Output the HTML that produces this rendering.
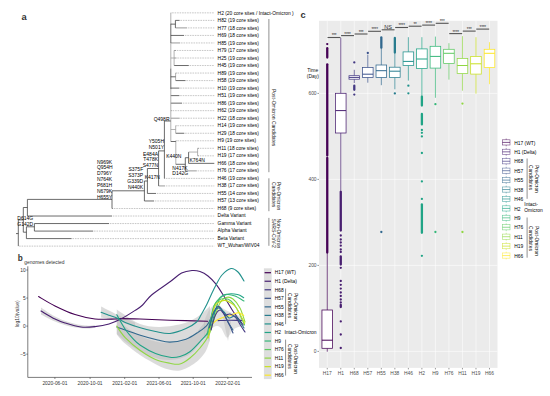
<!DOCTYPE html>
<html><head><meta charset="utf-8"><style>
html,body{margin:0;padding:0;background:#fff;width:550px;height:396px;overflow:hidden;}
svg{display:block;}
text{font-family:"Liberation Sans",sans-serif;}
</style></head><body>
<svg width="550" height="396" viewBox="0 0 550 396">
<g fill="none" stroke-width="0.55">
<line x1="170.8" y1="12.85" x2="171.3" y2="12.85" stroke="#9a9a9a" stroke-width="1.0"/>
<line x1="172.1" y1="12.85" x2="214.3" y2="12.85" stroke="#a8a8a8" stroke-width="0.65" stroke-dasharray="1.6 0.9"/>
<line x1="175.4" y1="20.38" x2="179.6" y2="20.38" stroke="#3a3a3a" stroke-width="0.75"/>
<line x1="180.4" y1="20.38" x2="214.3" y2="20.38" stroke="#a8a8a8" stroke-width="0.65" stroke-dasharray="1.6 0.9"/>
<line x1="175.4" y1="27.9" x2="187.1" y2="27.9" stroke="#9a9a9a" stroke-width="1.0"/>
<line x1="187.9" y1="27.9" x2="214.3" y2="27.9" stroke="#a8a8a8" stroke-width="0.65" stroke-dasharray="1.6 0.9"/>
<line x1="170.8" y1="35.43" x2="184" y2="35.43" stroke="#3a3a3a" stroke-width="0.75"/>
<line x1="184.8" y1="35.43" x2="214.3" y2="35.43" stroke="#a8a8a8" stroke-width="0.65" stroke-dasharray="1.6 0.9"/>
<line x1="170.8" y1="42.95" x2="180.2" y2="42.95" stroke="#9a9a9a" stroke-width="1.0"/>
<line x1="181" y1="42.95" x2="214.3" y2="42.95" stroke="#a8a8a8" stroke-width="0.65" stroke-dasharray="1.6 0.9"/>
<line x1="174.1" y1="50.48" x2="176" y2="50.48" stroke="#9a9a9a" stroke-width="1.0"/>
<line x1="176.8" y1="50.48" x2="214.3" y2="50.48" stroke="#a8a8a8" stroke-width="0.65" stroke-dasharray="1.6 0.9"/>
<line x1="174.1" y1="58" x2="176.5" y2="58" stroke="#9a9a9a" stroke-width="1.0"/>
<line x1="177.3" y1="58" x2="214.3" y2="58" stroke="#a8a8a8" stroke-width="0.65" stroke-dasharray="1.6 0.9"/>
<line x1="174.1" y1="65.53" x2="188.8" y2="65.53" stroke="#3a3a3a" stroke-width="0.75"/>
<line x1="189.6" y1="65.53" x2="214.3" y2="65.53" stroke="#a8a8a8" stroke-width="0.65" stroke-dasharray="1.6 0.9"/>
<line x1="175.6" y1="73.05" x2="176.7" y2="73.05" stroke="#9a9a9a" stroke-width="1.0"/>
<line x1="177.5" y1="73.05" x2="214.3" y2="73.05" stroke="#a8a8a8" stroke-width="0.65" stroke-dasharray="1.6 0.9"/>
<line x1="175.6" y1="80.58" x2="185.5" y2="80.58" stroke="#3a3a3a" stroke-width="0.75"/>
<line x1="186.3" y1="80.58" x2="214.3" y2="80.58" stroke="#a8a8a8" stroke-width="0.65" stroke-dasharray="1.6 0.9"/>
<line x1="170.8" y1="88.1" x2="179.4" y2="88.1" stroke="#3a3a3a" stroke-width="0.75"/>
<line x1="180.2" y1="88.1" x2="214.3" y2="88.1" stroke="#a8a8a8" stroke-width="0.65" stroke-dasharray="1.6 0.9"/>
<line x1="170.8" y1="95.62" x2="179.4" y2="95.62" stroke="#3a3a3a" stroke-width="0.75"/>
<line x1="180.2" y1="95.62" x2="214.3" y2="95.62" stroke="#a8a8a8" stroke-width="0.65" stroke-dasharray="1.6 0.9"/>
<line x1="170.8" y1="103.15" x2="182" y2="103.15" stroke="#3a3a3a" stroke-width="0.75"/>
<line x1="182.8" y1="103.15" x2="214.3" y2="103.15" stroke="#a8a8a8" stroke-width="0.65" stroke-dasharray="1.6 0.9"/>
<line x1="170.8" y1="110.67" x2="171.8" y2="110.67" stroke="#9a9a9a" stroke-width="1.0"/>
<line x1="172.6" y1="110.67" x2="214.3" y2="110.67" stroke="#a8a8a8" stroke-width="0.65" stroke-dasharray="1.6 0.9"/>
<line x1="170.8" y1="118.2" x2="179.7" y2="118.2" stroke="#9a9a9a" stroke-width="1.0"/>
<line x1="180.5" y1="118.2" x2="214.3" y2="118.2" stroke="#a8a8a8" stroke-width="0.65" stroke-dasharray="1.6 0.9"/>
<line x1="175.7" y1="125.72" x2="176.5" y2="125.72" stroke="#9a9a9a" stroke-width="1.0"/>
<line x1="177.3" y1="125.72" x2="214.3" y2="125.72" stroke="#a8a8a8" stroke-width="0.65" stroke-dasharray="1.6 0.9"/>
<line x1="175.7" y1="133.25" x2="184.3" y2="133.25" stroke="#3a3a3a" stroke-width="0.75"/>
<line x1="185.1" y1="133.25" x2="214.3" y2="133.25" stroke="#a8a8a8" stroke-width="0.65" stroke-dasharray="1.6 0.9"/>
<line x1="175.8" y1="140.78" x2="176.5" y2="140.78" stroke="#9a9a9a" stroke-width="1.0"/>
<line x1="177.3" y1="140.78" x2="214.3" y2="140.78" stroke="#a8a8a8" stroke-width="0.65" stroke-dasharray="1.6 0.9"/>
<line x1="197.6" y1="148.3" x2="199" y2="148.3" stroke="#9a9a9a" stroke-width="1.0"/>
<line x1="199.8" y1="148.3" x2="214.3" y2="148.3" stroke="#a8a8a8" stroke-width="0.65" stroke-dasharray="1.6 0.9"/>
<line x1="197.6" y1="155.82" x2="199" y2="155.82" stroke="#9a9a9a" stroke-width="1.0"/>
<line x1="199.8" y1="155.82" x2="214.3" y2="155.82" stroke="#a8a8a8" stroke-width="0.65" stroke-dasharray="1.6 0.9"/>
<line x1="188.6" y1="163.35" x2="214.3" y2="163.35" stroke="#3a3a3a" stroke-width="0.75"/>
<line x1="185.3" y1="170.88" x2="196.8" y2="170.88" stroke="#9a9a9a" stroke-width="1.0"/>
<line x1="197.6" y1="170.88" x2="214.3" y2="170.88" stroke="#a8a8a8" stroke-width="0.65" stroke-dasharray="1.6 0.9"/>
<line x1="164.4" y1="178.4" x2="165" y2="178.4" stroke="#9a9a9a" stroke-width="1.0"/>
<line x1="165.8" y1="178.4" x2="214.3" y2="178.4" stroke="#a8a8a8" stroke-width="0.65" stroke-dasharray="1.6 0.9"/>
<line x1="158.6" y1="185.93" x2="165" y2="185.93" stroke="#9a9a9a" stroke-width="1.0"/>
<line x1="165.8" y1="185.93" x2="214.3" y2="185.93" stroke="#a8a8a8" stroke-width="0.65" stroke-dasharray="1.6 0.9"/>
<line x1="147.4" y1="193.45" x2="156" y2="193.45" stroke="#3a3a3a" stroke-width="0.75"/>
<line x1="156.8" y1="193.45" x2="214.3" y2="193.45" stroke="#a8a8a8" stroke-width="0.65" stroke-dasharray="1.6 0.9"/>
<line x1="144.4" y1="200.97" x2="154" y2="200.97" stroke="#3a3a3a" stroke-width="0.75"/>
<line x1="154.8" y1="200.97" x2="214.3" y2="200.97" stroke="#a8a8a8" stroke-width="0.65" stroke-dasharray="1.6 0.9"/>
<line x1="112" y1="208.5" x2="113" y2="208.5" stroke="#9a9a9a" stroke-width="1.0"/>
<line x1="113.8" y1="208.5" x2="214.3" y2="208.5" stroke="#a8a8a8" stroke-width="0.65" stroke-dasharray="1.6 0.9"/>
<line x1="27.4" y1="216.03" x2="112" y2="216.03" stroke="#3a3a3a" stroke-width="0.75"/>
<line x1="112.8" y1="216.03" x2="214.3" y2="216.03" stroke="#a8a8a8" stroke-width="0.65" stroke-dasharray="1.6 0.9"/>
<line x1="34.4" y1="223.55" x2="109" y2="223.55" stroke="#3a3a3a" stroke-width="0.75"/>
<line x1="109.8" y1="223.55" x2="214.3" y2="223.55" stroke="#a8a8a8" stroke-width="0.65" stroke-dasharray="1.6 0.9"/>
<line x1="34.4" y1="231.08" x2="93.2" y2="231.08" stroke="#3a3a3a" stroke-width="0.75"/>
<line x1="94" y1="231.08" x2="214.3" y2="231.08" stroke="#a8a8a8" stroke-width="0.65" stroke-dasharray="1.6 0.9"/>
<line x1="26.4" y1="238.6" x2="71.6" y2="238.6" stroke="#3a3a3a" stroke-width="0.75"/>
<line x1="72.4" y1="238.6" x2="214.3" y2="238.6" stroke="#a8a8a8" stroke-width="0.65" stroke-dasharray="1.6 0.9"/>
<line x1="19.1" y1="246.12" x2="214.3" y2="246.12" stroke="#a8a8a8" stroke-width="0.65" stroke-dasharray="1.6 0.9"/>
<line x1="170.8" y1="12.85" x2="170.8" y2="23.6" stroke="#9a9a9a" stroke-width="0.75"/>
<line x1="170.8" y1="23.6" x2="170.8" y2="43" stroke="#3a3a3a" stroke-width="0.75"/>
<line x1="170.8" y1="43" x2="170.8" y2="68.5" stroke="#9a9a9a" stroke-width="0.75"/>
<line x1="170.8" y1="68.5" x2="170.8" y2="89.2" stroke="#3a3a3a" stroke-width="0.75"/>
<line x1="170.8" y1="89.2" x2="170.8" y2="141.5" stroke="#9a9a9a" stroke-width="0.75"/>
<line x1="175.4" y1="20.38" x2="175.4" y2="27.9" stroke="#3a3a3a" stroke-width="0.75"/>
<line x1="174.1" y1="50.48" x2="174.1" y2="65.53" stroke="#9a9a9a" stroke-width="0.75"/>
<line x1="175.6" y1="73.05" x2="175.6" y2="80.58" stroke="#9a9a9a" stroke-width="0.75"/>
<line x1="175.7" y1="125.72" x2="175.7" y2="133.25" stroke="#9a9a9a" stroke-width="0.75"/>
<line x1="175.8" y1="140.78" x2="175.8" y2="164.29" stroke="#9a9a9a" stroke-width="0.75"/>
<line x1="185.3" y1="157.71" x2="185.3" y2="170.88" stroke="#3a3a3a" stroke-width="0.75"/>
<line x1="188.6" y1="152.06" x2="188.6" y2="163.35" stroke="#3a3a3a" stroke-width="0.75"/>
<line x1="197.6" y1="148.3" x2="197.6" y2="155.82" stroke="#9a9a9a" stroke-width="0.75"/>
<line x1="164.4" y1="121" x2="164.4" y2="178.4" stroke="#3a3a3a" stroke-width="0.75"/>
<line x1="158.6" y1="150.9" x2="158.6" y2="185.93" stroke="#3a3a3a" stroke-width="0.75"/>
<line x1="147.4" y1="168.5" x2="147.4" y2="193.45" stroke="#3a3a3a" stroke-width="0.75"/>
<line x1="144.4" y1="181" x2="144.4" y2="200.97" stroke="#3a3a3a" stroke-width="0.75"/>
<line x1="112" y1="190.8" x2="112" y2="208.5" stroke="#3a3a3a" stroke-width="0.75"/>
<line x1="27.4" y1="199.4" x2="27.4" y2="216.03" stroke="#3a3a3a" stroke-width="0.75"/>
<line x1="23.3" y1="207.5" x2="23.3" y2="232.2" stroke="#3a3a3a" stroke-width="0.75"/>
<line x1="26.4" y1="226.8" x2="26.4" y2="238.6" stroke="#3a3a3a" stroke-width="0.75"/>
<line x1="34.4" y1="223.55" x2="34.4" y2="231.08" stroke="#3a3a3a" stroke-width="0.75"/>
<line x1="18.3" y1="219.9" x2="18.3" y2="246.12" stroke="#3a3a3a" stroke-width="0.75"/>
<line x1="170.8" y1="24.14" x2="175.4" y2="24.14" stroke="#3a3a3a" stroke-width="0.75"/>
<line x1="170.8" y1="58" x2="174.1" y2="58" stroke="#9a9a9a" stroke-width="0.75"/>
<line x1="170.8" y1="76.81" x2="175.6" y2="76.81" stroke="#3a3a3a" stroke-width="0.75"/>
<line x1="170.8" y1="129.49" x2="175.7" y2="129.49" stroke="#9a9a9a" stroke-width="0.75"/>
<line x1="170.8" y1="141.5" x2="175.8" y2="141.5" stroke="#3a3a3a" stroke-width="0.75"/>
<line x1="175.8" y1="164.29" x2="185.3" y2="164.29" stroke="#3a3a3a" stroke-width="0.75"/>
<line x1="185.3" y1="157.71" x2="188.6" y2="157.71" stroke="#3a3a3a" stroke-width="0.75"/>
<line x1="188.6" y1="152.06" x2="197.6" y2="152.06" stroke="#9a9a9a" stroke-width="0.75"/>
<line x1="164.4" y1="121" x2="170.8" y2="121" stroke="#3a3a3a" stroke-width="0.75"/>
<line x1="158.6" y1="150.9" x2="164.4" y2="150.9" stroke="#3a3a3a" stroke-width="0.75"/>
<line x1="147.4" y1="168.5" x2="158.6" y2="168.5" stroke="#3a3a3a" stroke-width="0.75"/>
<line x1="144.4" y1="181" x2="147.4" y2="181" stroke="#3a3a3a" stroke-width="0.75"/>
<line x1="112" y1="190.8" x2="144.4" y2="190.8" stroke="#3a3a3a" stroke-width="0.75"/>
<line x1="27.4" y1="199.4" x2="112" y2="199.4" stroke="#3a3a3a" stroke-width="0.75"/>
<line x1="23.3" y1="207.5" x2="27.4" y2="207.5" stroke="#3a3a3a" stroke-width="0.75"/>
<line x1="23.3" y1="232.2" x2="26.4" y2="232.2" stroke="#3a3a3a" stroke-width="0.75"/>
<line x1="26.4" y1="226.8" x2="34.4" y2="226.8" stroke="#3a3a3a" stroke-width="0.75"/>
<line x1="18.3" y1="219.9" x2="23.3" y2="219.9" stroke="#3a3a3a" stroke-width="0.75"/>
<line x1="16" y1="233.6" x2="18.3" y2="233.6" stroke="#3a3a3a" stroke-width="0.75"/>
</g>
<g font-family="'Liberation Sans', sans-serif" font-size="4.9" fill="#000">
<text x="217.6" y="14.65">H2 (20 core sites / Intact-Omicron )</text>
<text x="217.6" y="22.15">H82 (19 core sites)</text>
<text x="217.6" y="29.64">H77 (18 core sites)</text>
<text x="217.6" y="37.14">H69 (18 core sites)</text>
<text x="217.6" y="44.64">H85 (19 core sites)</text>
<text x="217.6" y="52.13">H79 (17 core sites)</text>
<text x="217.6" y="59.63">H25 (19 core sites)</text>
<text x="217.6" y="67.13">H45 (19 core sites)</text>
<text x="217.6" y="74.63">H89 (19 core sites)</text>
<text x="217.6" y="82.12">H58 (19 core sites)</text>
<text x="217.6" y="89.62">H10 (19 core sites)</text>
<text x="217.6" y="97.12">H51 (19 core sites)</text>
<text x="217.6" y="104.61">H86 (19 core sites)</text>
<text x="217.6" y="112.11">H62 (19 core sites)</text>
<text x="217.6" y="119.61">H22 (18 core sites)</text>
<text x="217.6" y="127.11">H14 (19 core sites)</text>
<text x="217.6" y="134.6">H29 (18 core sites)</text>
<text x="217.6" y="142.1">H9 (19 core sites)</text>
<text x="217.6" y="149.6">H11 (18 core sites)</text>
<text x="217.6" y="157.09">H19 (17 core sites)</text>
<text x="217.6" y="164.59">H66 (18 core sites)</text>
<text x="217.6" y="172.09">H76 (17 core sites)</text>
<text x="217.6" y="179.58">H46 (19 core sites)</text>
<text x="217.6" y="187.08">H38 (17 core sites)</text>
<text x="217.6" y="194.58">H55 (14 core sites)</text>
<text x="217.6" y="202.08">H57 (13 core sites)</text>
<text x="217.6" y="209.57">H68 (9 core sites)</text>
<text x="217.6" y="217.07">Delta Variant</text>
<text x="217.6" y="224.57">Gamma Variant</text>
<text x="217.6" y="232.06">Alpha Variant</text>
<text x="217.6" y="239.56">Beta Variant</text>
<text x="217.6" y="247.06">WT_Wuhan/WIV04</text>
</g>
<g font-family="'Liberation Sans', sans-serif" font-size="5" fill="#000">
<text x="169.5" y="121.3" text-anchor="end">Q498R</text>
<text x="164" y="143.3" text-anchor="end">Y505H</text>
<text x="164" y="149.2" text-anchor="end">N501Y</text>
<text x="166.2" y="158.3" text-anchor="start">K440N</text>
<text x="189.5" y="162.1" text-anchor="start">K764N</text>
<text x="172.3" y="169.7" text-anchor="start">N417K</text>
<text x="172.3" y="175.4" text-anchor="start">D142G</text>
<text x="158" y="155.5" text-anchor="end">E484A</text>
<text x="158" y="161.2" text-anchor="end">T478K</text>
<text x="158" y="166.9" text-anchor="end">S477N</text>
<text x="144.7" y="178.7" text-anchor="start">K417N</text>
<text x="143.2" y="171.1" text-anchor="end">S375F</text>
<text x="143.2" y="177.3" text-anchor="end">S373P</text>
<text x="143.2" y="183.2" text-anchor="end">G339D</text>
<text x="143.2" y="189.2" text-anchor="end">N440K</text>
<text x="96.9" y="163.5" text-anchor="start">N969K</text>
<text x="96.9" y="169.4" text-anchor="start">Q954H</text>
<text x="96.9" y="175.3" text-anchor="start">D796Y</text>
<text x="96.9" y="181.2" text-anchor="start">N764K</text>
<text x="96.9" y="187.1" text-anchor="start">P681H</text>
<text x="96.9" y="193" text-anchor="start">N679K</text>
<text x="96.9" y="198.9" text-anchor="start">H655Y</text>
<text x="17.3" y="220.3" text-anchor="start">D614G</text>
<text x="17.3" y="226.1" text-anchor="start">G142D</text>
</g>
<g stroke="#444" stroke-width="0.6">
<line x1="268.9" y1="19" x2="268.9" y2="172.2"/>
<line x1="268.9" y1="178.3" x2="268.9" y2="211.2"/>
<line x1="268.9" y1="217.9" x2="268.9" y2="245.8"/>
</g>
<g font-family="'Liberation Sans', sans-serif" font-size="5" fill="#1a1a1a" text-anchor="middle">
<text transform="translate(271.9,89.0) rotate(90)" text-anchor="start">Post-Omicron Candidates</text>
<text transform="translate(277.3,182.0) rotate(90)" text-anchor="start">Pre-Omicron</text>
<text transform="translate(272.1,182.0) rotate(90)" text-anchor="start">Candidates</text>
<text transform="translate(277.3,218.6) rotate(90)" text-anchor="start">Non-Omicron</text>
<text transform="translate(272.1,218.6) rotate(90)" text-anchor="start">SARS-CoV-2</text>
</g>
<text x="21.4" y="20.1" font-family="'Liberation Sans', sans-serif" font-size="9.3" font-weight="bold" fill="#333">a</text>
<text x="17.7" y="260.6" font-family="'Liberation Sans', sans-serif" font-size="8.2" font-weight="bold" fill="#333">b</text>
<text x="300.5" y="18.3" font-family="'Liberation Sans', sans-serif" font-size="9.3" font-weight="bold" fill="#333">c</text>
<rect x="319.0" y="20.8" width="178.5" height="347.1" fill="#ebebeb"/>
<g stroke="#fff" stroke-width="0.55">
<line x1="319.0" y1="351.4" x2="497.5" y2="351.4"/>
<line x1="319.0" y1="265.4" x2="497.5" y2="265.4"/>
<line x1="319.0" y1="179.4" x2="497.5" y2="179.4"/>
<line x1="319.0" y1="93.4" x2="497.5" y2="93.4"/>
<line x1="327.25" y1="20.8" x2="327.25" y2="367.9"/>
<line x1="340.77" y1="20.8" x2="340.77" y2="367.9"/>
<line x1="354.29" y1="20.8" x2="354.29" y2="367.9"/>
<line x1="367.81" y1="20.8" x2="367.81" y2="367.9"/>
<line x1="381.33" y1="20.8" x2="381.33" y2="367.9"/>
<line x1="394.85" y1="20.8" x2="394.85" y2="367.9"/>
<line x1="408.37" y1="20.8" x2="408.37" y2="367.9"/>
<line x1="421.89" y1="20.8" x2="421.89" y2="367.9"/>
<line x1="435.41" y1="20.8" x2="435.41" y2="367.9"/>
<line x1="448.93" y1="20.8" x2="448.93" y2="367.9"/>
<line x1="462.45" y1="20.8" x2="462.45" y2="367.9"/>
<line x1="475.97" y1="20.8" x2="475.97" y2="367.9"/>
<line x1="489.49" y1="20.8" x2="489.49" y2="367.9"/>
</g>
<g stroke="#333" stroke-width="0.5">
<line x1="317.4" y1="351.4" x2="319.0" y2="351.4"/>
<line x1="317.4" y1="265.4" x2="319.0" y2="265.4"/>
<line x1="317.4" y1="179.4" x2="319.0" y2="179.4"/>
<line x1="317.4" y1="93.4" x2="319.0" y2="93.4"/>
<line x1="327.25" y1="367.9" x2="327.25" y2="369.4"/>
<line x1="340.77" y1="367.9" x2="340.77" y2="369.4"/>
<line x1="354.29" y1="367.9" x2="354.29" y2="369.4"/>
<line x1="367.81" y1="367.9" x2="367.81" y2="369.4"/>
<line x1="381.33" y1="367.9" x2="381.33" y2="369.4"/>
<line x1="394.85" y1="367.9" x2="394.85" y2="369.4"/>
<line x1="408.37" y1="367.9" x2="408.37" y2="369.4"/>
<line x1="421.89" y1="367.9" x2="421.89" y2="369.4"/>
<line x1="435.41" y1="367.9" x2="435.41" y2="369.4"/>
<line x1="448.93" y1="367.9" x2="448.93" y2="369.4"/>
<line x1="462.45" y1="367.9" x2="462.45" y2="369.4"/>
<line x1="475.97" y1="367.9" x2="475.97" y2="369.4"/>
<line x1="489.49" y1="367.9" x2="489.49" y2="369.4"/>
</g>
<g font-family="'Liberation Sans', sans-serif" font-size="4.9" fill="#4d4d4d">
<text x="316.6" y="353.15" text-anchor="end">0</text>
<text x="316.6" y="267.15" text-anchor="end">200</text>
<text x="316.6" y="181.15" text-anchor="end">400</text>
<text x="316.6" y="95.15" text-anchor="end">600</text>
<text x="327.25" y="375" text-anchor="middle">H17</text>
<text x="340.77" y="375" text-anchor="middle">H1</text>
<text x="354.29" y="375" text-anchor="middle">H68</text>
<text x="367.81" y="375" text-anchor="middle">H57</text>
<text x="381.33" y="375" text-anchor="middle">H55</text>
<text x="394.85" y="375" text-anchor="middle">H38</text>
<text x="408.37" y="375" text-anchor="middle">H46</text>
<text x="421.89" y="375" text-anchor="middle">H2</text>
<text x="435.41" y="375" text-anchor="middle">H9</text>
<text x="448.93" y="375" text-anchor="middle">H76</text>
<text x="462.45" y="375" text-anchor="middle">H11</text>
<text x="475.97" y="375" text-anchor="middle">H19</text>
<text x="489.49" y="375" text-anchor="middle">H66</text>
</g>
<g font-family="'Liberation Sans', sans-serif" font-size="5.0" fill="#111" text-anchor="end">
<text x="318.3" y="71.8">Time</text>
<text x="319.0" y="78.2">(Day)</text>
</g>
<g stroke="#440154" fill="none">
<line x1="327.25" y1="252" x2="327.25" y2="310" stroke-width="0.7"/>
<line x1="327.25" y1="348.3" x2="327.25" y2="351.7" stroke-width="0.7"/>
<rect x="321.95" y="310" width="10.6" height="38.3" fill="#fff" stroke-width="0.75"/>
<line x1="321.95" y1="340.2" x2="332.55" y2="340.2" stroke-width="1.0"/>
</g>
<g stroke="#481f70" fill="none">
<line x1="340.77" y1="37.8" x2="340.77" y2="93.3" stroke-width="0.7"/>
<line x1="340.77" y1="133" x2="340.77" y2="192" stroke-width="0.7"/>
<rect x="335.47" y="93.3" width="10.6" height="39.7" fill="#fff" stroke-width="0.75"/>
<line x1="335.47" y1="110.6" x2="346.07" y2="110.6" stroke-width="1.0"/>
</g>
<g stroke="#443983" fill="none">
<line x1="354.29" y1="69.8" x2="354.29" y2="75.7" stroke-width="0.7"/>
<line x1="354.29" y1="79.2" x2="354.29" y2="83" stroke-width="0.7"/>
<rect x="348.99" y="75.7" width="10.6" height="3.5" fill="#fff" stroke-width="0.75"/>
<line x1="348.99" y1="77.4" x2="359.59" y2="77.4" stroke-width="1.0"/>
</g>
<g stroke="#3b528b" fill="none">
<line x1="367.81" y1="54.8" x2="367.81" y2="67.5" stroke-width="0.7"/>
<line x1="367.81" y1="77.4" x2="367.81" y2="82.7" stroke-width="0.7"/>
<rect x="362.51" y="67.5" width="10.6" height="9.9" fill="#fff" stroke-width="0.75"/>
<line x1="362.51" y1="74.2" x2="373.11" y2="74.2" stroke-width="1.0"/>
</g>
<g stroke="#31688e" fill="none">
<line x1="381.33" y1="47.7" x2="381.33" y2="65" stroke-width="0.7"/>
<line x1="381.33" y1="77.4" x2="381.33" y2="85.2" stroke-width="0.7"/>
<rect x="376.03" y="65" width="10.6" height="12.4" fill="#fff" stroke-width="0.75"/>
<line x1="376.03" y1="70.7" x2="386.63" y2="70.7" stroke-width="1.0"/>
</g>
<g stroke="#287c8e" fill="none">
<line x1="394.85" y1="53" x2="394.85" y2="67.2" stroke-width="0.7"/>
<line x1="394.85" y1="77.4" x2="394.85" y2="89.3" stroke-width="0.7"/>
<rect x="389.55" y="67.2" width="10.6" height="10.2" fill="#fff" stroke-width="0.75"/>
<line x1="389.55" y1="71.2" x2="400.15" y2="71.2" stroke-width="1.0"/>
</g>
<g stroke="#21918c" fill="none">
<line x1="408.37" y1="37.2" x2="408.37" y2="51.9" stroke-width="0.7"/>
<line x1="408.37" y1="65.5" x2="408.37" y2="80.6" stroke-width="0.7"/>
<rect x="403.07" y="51.9" width="10.6" height="13.6" fill="#fff" stroke-width="0.75"/>
<line x1="403.07" y1="61.4" x2="413.67" y2="61.4" stroke-width="1.0"/>
</g>
<g stroke="#20a486" fill="none">
<line x1="421.89" y1="37.2" x2="421.89" y2="48.9" stroke-width="0.7"/>
<line x1="421.89" y1="68.5" x2="421.89" y2="96.8" stroke-width="0.7"/>
<rect x="416.59" y="48.9" width="10.6" height="19.6" fill="#fff" stroke-width="0.75"/>
<line x1="416.59" y1="59" x2="427.19" y2="59" stroke-width="1.0"/>
</g>
<g stroke="#35b779" fill="none">
<line x1="435.41" y1="36.6" x2="435.41" y2="46.3" stroke-width="0.7"/>
<line x1="435.41" y1="68.1" x2="435.41" y2="97.8" stroke-width="0.7"/>
<rect x="430.11" y="46.3" width="10.6" height="21.8" fill="#fff" stroke-width="0.75"/>
<line x1="430.11" y1="56.4" x2="440.71" y2="56.4" stroke-width="1.0"/>
</g>
<g stroke="#5ec962" fill="none">
<line x1="448.93" y1="43.2" x2="448.93" y2="49.3" stroke-width="0.7"/>
<line x1="448.93" y1="63.4" x2="448.93" y2="79.6" stroke-width="0.7"/>
<rect x="443.63" y="49.3" width="10.6" height="14.1" fill="#fff" stroke-width="0.75"/>
<line x1="443.63" y1="53.3" x2="454.23" y2="53.3" stroke-width="1.0"/>
</g>
<g stroke="#90d743" fill="none">
<line x1="462.45" y1="36.2" x2="462.45" y2="58.4" stroke-width="0.7"/>
<line x1="462.45" y1="73.5" x2="462.45" y2="90.7" stroke-width="0.7"/>
<rect x="457.15" y="58.4" width="10.6" height="15.1" fill="#fff" stroke-width="0.75"/>
<line x1="457.15" y1="65.5" x2="467.75" y2="65.5" stroke-width="1.0"/>
</g>
<g stroke="#c8e020" fill="none">
<line x1="475.97" y1="37.2" x2="475.97" y2="56.4" stroke-width="0.7"/>
<line x1="475.97" y1="74.1" x2="475.97" y2="93.7" stroke-width="0.7"/>
<rect x="470.67" y="56.4" width="10.6" height="17.7" fill="#fff" stroke-width="0.75"/>
<line x1="470.67" y1="63.8" x2="481.27" y2="63.8" stroke-width="1.0"/>
</g>
<g stroke="#fde725" fill="none">
<line x1="489.49" y1="42.2" x2="489.49" y2="49.3" stroke-width="0.7"/>
<line x1="489.49" y1="67.5" x2="489.49" y2="84.2" stroke-width="0.7"/>
<rect x="484.19" y="49.3" width="10.6" height="18.2" fill="#fff" stroke-width="0.75"/>
<line x1="484.19" y1="53.3" x2="494.79" y2="53.3" stroke-width="1.0"/>
</g>
<g fill="#440154">
<circle cx="327.25" cy="44.1" r="1.15"/>
<rect x="326.1" y="47.05" width="2.3" height="11.6" rx="1.15"/>
<rect x="326.1" y="63.15" width="2.3" height="93.5" rx="1.15"/>
<rect x="326.1" y="156.85" width="2.3" height="96.8" rx="1.15"/>
</g>
<g fill="#481f70">
<rect x="339.62" y="190.65" width="2.3" height="41.1" rx="1.15"/>
<circle cx="340.77" cy="235.5" r="1.15"/>
<circle cx="340.77" cy="239.5" r="1.15"/>
<circle cx="340.77" cy="242.5" r="1.15"/>
<circle cx="340.77" cy="245.7" r="1.15"/>
<circle cx="340.77" cy="249.5" r="1.15"/>
<circle cx="340.77" cy="252" r="1.15"/>
<rect x="339.62" y="255.25" width="2.3" height="10.5" rx="1.15"/>
<circle cx="340.77" cy="267.8" r="1.15"/>
<circle cx="340.77" cy="281" r="1.15"/>
<circle cx="340.77" cy="284.8" r="1.15"/>
<circle cx="340.77" cy="288.6" r="1.15"/>
<circle cx="340.77" cy="292.5" r="1.15"/>
<circle cx="340.77" cy="296" r="1.15"/>
<circle cx="340.77" cy="299.5" r="1.15"/>
<circle cx="340.77" cy="302.5" r="1.15"/>
<rect x="339.62" y="303.85" width="2.3" height="4.3" rx="1.15"/>
<circle cx="340.77" cy="321.4" r="1.15"/>
<circle cx="340.77" cy="334.5" r="1.15"/>
<circle cx="340.77" cy="348" r="1.15"/>
</g>
<g fill="#443983">
<circle cx="354.29" cy="62.4" r="1.15"/>
<rect x="353.14" y="84.55" width="2.3" height="6.4" rx="1.15"/>
<circle cx="354.29" cy="94.6" r="1.15"/>
</g>
<g fill="#3b528b">
<circle cx="367.81" cy="53" r="1.15"/>
</g>
<g fill="#31688e">
<rect x="380.18" y="36.25" width="2.3" height="12.6" rx="1.15"/>
<circle cx="381.33" cy="232" r="1.15"/>
</g>
<g fill="#287c8e">
<rect x="393.7" y="36.85" width="2.3" height="16.9" rx="1.15"/>
<circle cx="394.85" cy="93.4" r="1.15"/>
</g>
<g fill="#21918c">
<circle cx="408.37" cy="85.7" r="1.15"/>
<circle cx="408.37" cy="93.3" r="1.15"/>
</g>
<g fill="#20a486">
<rect x="420.74" y="95.55" width="2.3" height="11.1" rx="1.15"/>
<rect x="420.74" y="112.85" width="2.3" height="12.7" rx="1.15"/>
<circle cx="421.89" cy="130" r="1.15"/>
<circle cx="421.89" cy="132.8" r="1.15"/>
<circle cx="421.89" cy="136.4" r="1.15"/>
<circle cx="421.89" cy="153" r="1.15"/>
<circle cx="421.89" cy="181.4" r="1.15"/>
<circle cx="421.89" cy="198.9" r="1.15"/>
<rect x="420.74" y="203.25" width="2.3" height="30.7" rx="1.15"/>
<circle cx="421.89" cy="255.8" r="1.15"/>
</g>
<g fill="#35b779">
<circle cx="435.41" cy="104.2" r="1.15"/>
<circle cx="435.41" cy="232" r="1.15"/>
</g>
<g fill="#90d743">
<circle cx="462.45" cy="103.6" r="1.15"/>
<circle cx="462.45" cy="232" r="1.15"/>
</g>
<g stroke="#555" stroke-width="1.1">
<line x1="327.55" y1="37.5" x2="340.47" y2="37.5"/>
<line x1="341.07" y1="35.6" x2="353.99" y2="35.6"/>
<line x1="354.59" y1="34" x2="367.51" y2="34"/>
<line x1="368.11" y1="31.3" x2="381.03" y2="31.3"/>
<line x1="381.63" y1="29.8" x2="394.55" y2="29.8"/>
<line x1="395.15" y1="27.5" x2="408.07" y2="27.5"/>
<line x1="408.67" y1="26.2" x2="421.59" y2="26.2"/>
<line x1="422.19" y1="25.1" x2="435.11" y2="25.1"/>
<line x1="435.71" y1="23.3" x2="448.63" y2="23.3"/>
<line x1="449.23" y1="33.6" x2="462.15" y2="33.6"/>
<line x1="462.75" y1="31.1" x2="475.67" y2="31.1"/>
<line x1="476.27" y1="29.1" x2="489.19" y2="29.1"/>
</g>
<g font-family="'Liberation Sans', sans-serif" fill="#333" text-anchor="middle">
<text x="334.01" y="37.4" font-size="4.6" letter-spacing="-0.2">***</text>
<text x="347.53" y="35.5" font-size="4.6" letter-spacing="-0.2">****</text>
<text x="361.05" y="33.9" font-size="4.6" letter-spacing="-0.2">***</text>
<text x="374.57" y="31.2" font-size="4.6" letter-spacing="-0.2">****</text>
<text x="388.09" y="28.5" font-size="5.6">NS</text>
<text x="401.61" y="27.4" font-size="4.6" letter-spacing="-0.2">****</text>
<text x="415.13" y="26.1" font-size="4.6" letter-spacing="-0.2">**</text>
<text x="428.65" y="25" font-size="4.6" letter-spacing="-0.2">****</text>
<text x="442.17" y="23.2" font-size="4.6" letter-spacing="-0.2">***</text>
<text x="455.69" y="33.5" font-size="4.6" letter-spacing="-0.2">****</text>
<text x="469.21" y="31" font-size="4.6" letter-spacing="-0.2">***</text>
<text x="482.73" y="29" font-size="4.6" letter-spacing="-0.2">****</text>
</g>
<g stroke="#440154" fill="#fff" stroke-width="0.6" stroke-opacity="0.75">
<line x1="506.2" y1="138.5" x2="506.2" y2="146.3"/>
<rect x="502.4" y="139.8" width="7.6" height="5.2"/>
<line x1="502.4" y1="142.4" x2="510" y2="142.4" stroke-width="0.9"/>
</g>
<g stroke="#481f70" fill="#fff" stroke-width="0.6" stroke-opacity="0.75">
<line x1="506.2" y1="147.93" x2="506.2" y2="155.73"/>
<rect x="502.4" y="149.23" width="7.6" height="5.2"/>
<line x1="502.4" y1="151.83" x2="510" y2="151.83" stroke-width="0.9"/>
</g>
<g stroke="#443983" fill="#fff" stroke-width="0.6" stroke-opacity="0.75">
<line x1="506.2" y1="157.36" x2="506.2" y2="165.16"/>
<rect x="502.4" y="158.66" width="7.6" height="5.2"/>
<line x1="502.4" y1="161.26" x2="510" y2="161.26" stroke-width="0.9"/>
</g>
<g stroke="#3b528b" fill="#fff" stroke-width="0.6" stroke-opacity="0.75">
<line x1="506.2" y1="166.79" x2="506.2" y2="174.59"/>
<rect x="502.4" y="168.09" width="7.6" height="5.2"/>
<line x1="502.4" y1="170.69" x2="510" y2="170.69" stroke-width="0.9"/>
</g>
<g stroke="#31688e" fill="#fff" stroke-width="0.6" stroke-opacity="0.75">
<line x1="506.2" y1="176.22" x2="506.2" y2="184.02"/>
<rect x="502.4" y="177.52" width="7.6" height="5.2"/>
<line x1="502.4" y1="180.12" x2="510" y2="180.12" stroke-width="0.9"/>
</g>
<g stroke="#287c8e" fill="#fff" stroke-width="0.6" stroke-opacity="0.75">
<line x1="506.2" y1="185.65" x2="506.2" y2="193.45"/>
<rect x="502.4" y="186.95" width="7.6" height="5.2"/>
<line x1="502.4" y1="189.55" x2="510" y2="189.55" stroke-width="0.9"/>
</g>
<g stroke="#21918c" fill="#fff" stroke-width="0.6" stroke-opacity="0.75">
<line x1="506.2" y1="195.08" x2="506.2" y2="202.88"/>
<rect x="502.4" y="196.38" width="7.6" height="5.2"/>
<line x1="502.4" y1="198.98" x2="510" y2="198.98" stroke-width="0.9"/>
</g>
<g stroke="#20a486" fill="#fff" stroke-width="0.6" stroke-opacity="0.75">
<line x1="506.2" y1="204.51" x2="506.2" y2="212.31"/>
<rect x="502.4" y="205.81" width="7.6" height="5.2"/>
<line x1="502.4" y1="208.41" x2="510" y2="208.41" stroke-width="0.9"/>
</g>
<g stroke="#35b779" fill="#fff" stroke-width="0.6" stroke-opacity="0.75">
<line x1="506.2" y1="213.94" x2="506.2" y2="221.74"/>
<rect x="502.4" y="215.24" width="7.6" height="5.2"/>
<line x1="502.4" y1="217.84" x2="510" y2="217.84" stroke-width="0.9"/>
</g>
<g stroke="#5ec962" fill="#fff" stroke-width="0.6" stroke-opacity="0.75">
<line x1="506.2" y1="223.37" x2="506.2" y2="231.17"/>
<rect x="502.4" y="224.67" width="7.6" height="5.2"/>
<line x1="502.4" y1="227.27" x2="510" y2="227.27" stroke-width="0.9"/>
</g>
<g stroke="#90d743" fill="#fff" stroke-width="0.6" stroke-opacity="0.75">
<line x1="506.2" y1="232.8" x2="506.2" y2="240.6"/>
<rect x="502.4" y="234.1" width="7.6" height="5.2"/>
<line x1="502.4" y1="236.7" x2="510" y2="236.7" stroke-width="0.9"/>
</g>
<g stroke="#c8e020" fill="#fff" stroke-width="0.6" stroke-opacity="0.75">
<line x1="506.2" y1="242.23" x2="506.2" y2="250.03"/>
<rect x="502.4" y="243.53" width="7.6" height="5.2"/>
<line x1="502.4" y1="246.13" x2="510" y2="246.13" stroke-width="0.9"/>
</g>
<g stroke="#fde725" fill="#fff" stroke-width="0.6" stroke-opacity="0.75">
<line x1="506.2" y1="251.66" x2="506.2" y2="259.46"/>
<rect x="502.4" y="252.96" width="7.6" height="5.2"/>
<line x1="502.4" y1="255.56" x2="510" y2="255.56" stroke-width="0.9"/>
</g>
<g font-family="'Liberation Sans', sans-serif" font-size="4.9" fill="#000">
<text x="514.2" y="144.5">H17 (WT)</text>
<text x="514.2" y="153.93">H1 (Delta)</text>
<text x="514.2" y="163.36">H68</text>
<text x="514.2" y="172.79">H57</text>
<text x="514.2" y="182.22">H55</text>
<text x="514.2" y="191.65">H38</text>
<text x="514.2" y="201.08">H46</text>
<text x="514.2" y="210.51">H2</text>
<text x="514.2" y="219.94">H9</text>
<text x="514.2" y="229.37">H76</text>
<text x="514.2" y="238.8">H11</text>
<text x="514.2" y="248.23">H19</text>
<text x="514.2" y="257.66">H66</text>
<text x="524.3" y="206.4">Intact-</text>
<text x="524.3" y="211.9">Omicron</text>
<text transform="translate(535.0,165.1) rotate(90)">Pre-Omicron</text>
<text transform="translate(529.3,165.1) rotate(90)">Candidates</text>
<text transform="translate(535.0,226.1) rotate(90)">Post-Omicron</text>
<text transform="translate(529.3,226.1) rotate(90)">Candidates</text>
</g>
<g stroke="#444" stroke-width="0.6">
<line x1="527.1" y1="158.5" x2="527.1" y2="198.8"/>
<line x1="527.1" y1="217.5" x2="527.1" y2="257.7"/>
</g>
<g stroke="#444" stroke-width="0.7">
<line x1="27.8" y1="266.3" x2="27.8" y2="377.4"/>
<line x1="27.8" y1="377.4" x2="252" y2="377.4"/>
<line x1="26.3" y1="270" x2="27.8" y2="270"/>
<line x1="26.3" y1="298.05" x2="27.8" y2="298.05"/>
<line x1="26.3" y1="326.1" x2="27.8" y2="326.1"/>
<line x1="26.3" y1="354.15" x2="27.8" y2="354.15"/>
<line x1="54.9" y1="377.4" x2="54.9" y2="378.9"/>
<line x1="90.1" y1="377.4" x2="90.1" y2="378.9"/>
<line x1="124.7" y1="377.4" x2="124.7" y2="378.9"/>
<line x1="159.0" y1="377.4" x2="159.0" y2="378.9"/>
<line x1="193.2" y1="377.4" x2="193.2" y2="378.9"/>
<line x1="227.8" y1="377.4" x2="227.8" y2="378.9"/>
</g>
<g font-family="'Liberation Sans', sans-serif" font-size="4.9" fill="#333">
<text x="25.8" y="271.75" text-anchor="end">10</text>
<text x="25.8" y="299.8" text-anchor="end">5</text>
<text x="25.8" y="327.85" text-anchor="end">0</text>
<text x="25.8" y="355.9" text-anchor="end">−5</text>
<text x="54.9" y="384.8" text-anchor="middle">2020-06-01</text>
<text x="90.1" y="384.8" text-anchor="middle">2020-10-01</text>
<text x="124.7" y="384.8" text-anchor="middle">2021-02-01</text>
<text x="159.0" y="384.8" text-anchor="middle">2021-06-01</text>
<text x="193.2" y="384.8" text-anchor="middle">2021-10-01</text>
<text x="227.8" y="384.8" text-anchor="middle">2022-02-01</text>
<text x="24.3" y="264.0">genomes detected</text>
<text transform="translate(18.7,313.8) rotate(-90)" text-anchor="middle">log10(value)</text>
</g>
<g fill="#bdbdbd" fill-opacity="0.55" stroke="none">
<path d="M41,307.5 C43.33,309 50.17,314 55,316.5 C59.83,319 65,321 70,322.5 C75,324 80.83,325.05 85,325.5 C89.17,325.95 93.33,325.25 95,325.2 L95,328 C93.33,328.08 89.17,328.75 85,328.5 C80.83,328.25 75,327.67 70,326.5 C65,325.33 59.83,323.5 55,321.5 C50.17,319.5 43.33,315.67 41,314.5 Z"/>
<path d="M101.1,306.5 C102.58,307.25 106.68,309.33 110,311 C113.32,312.67 116.83,314.58 121,316.5 C125.17,318.42 132.67,321.5 135,322.5 L135,327 C132.67,326.17 125.17,323.25 121,322 C116.83,320.75 113.32,320.25 110,319.5 C106.68,318.75 102.58,317.83 101.1,317.5 Z"/>
<path d="M116.8,309.5 C118.17,310.42 121.13,312.58 125,315 C128.87,317.42 134.17,322 140,324 C145.83,326 152.5,327.17 160,327 C167.5,326.83 178.33,325 185,323 C191.67,321 195.83,317.83 200,315 C204.17,312.17 208.33,307.5 210,306 L210,340 C209.17,342.08 207.5,348.67 205,352.5 C202.5,356.33 199.17,360 195,363 C190.83,366 185,369.58 180,370.5 C175,371.42 170,370.08 165,368.5 C160,366.92 154.17,363.25 150,361 C145.83,358.75 144.17,357.9 140,355 C135.83,352.1 128.87,347.02 125,343.6 C121.13,340.18 118.17,336.02 116.8,334.5 Z"/>
<path d="M116.8,318 C119,320 124.47,326.33 130,330 C135.53,333.67 143.33,337.83 150,340 C156.67,342.17 163.33,343.33 170,343 C176.67,342.67 184.17,341.5 190,338 C195.83,334.5 202.5,324.67 205,322 L205,336 C202.5,339 195.83,350 190,354 C184.17,358 176.67,359.67 170,360 C163.33,360.33 156.67,358.5 150,356 C143.33,353.5 135.53,348.67 130,345 C124.47,341.33 119,335.83 116.8,334 Z"/>
<path d="M204,322 C204.67,320.33 206.5,314.67 208,312 C209.5,309.33 211.33,307.17 213,306 C214.67,304.83 216.17,304.5 218,305 C219.83,305.5 222,307.83 224,309 C226,310.17 228,311.17 230,312 C232,312.83 234,313 236,314 C238,315 241,317.33 242,318 L242,326 C240.67,326.5 236.17,327.33 234,329 C231.83,330.67 230.33,334.67 229,336 C227.67,337.33 227.33,338.33 226,337 C224.67,335.67 222.67,329.83 221,328 C219.33,326.17 217.67,325.67 216,326 C214.33,326.33 212.5,328 211,330 C209.5,332 208.17,337 207,338 C205.83,339 204.5,336.33 204,336 Z" fill-opacity="0.45"/>
<path d="M205,330 L208,318 L211,326 L209,342 Z M223,318 L227,312 L231,322 L228,341 Z" fill-opacity="0.5"/>
</g>
<g fill="none" stroke-width="1.1" stroke-linecap="round">
<path d="M38.6,296.6 C41.33,298.17 48.93,303 55,306 C61.07,309 68.33,312.43 75,314.6 C81.67,316.77 88.33,318.27 95,319 C101.67,319.73 110.83,319.07 115,319 C119.17,318.93 115.83,318.6 120,318.6 C124.17,318.6 131.67,318.73 140,319 C148.33,319.27 158.75,319.83 170,320.2 C181.25,320.57 201.25,321.03 207.5,321.2" stroke="#440154"/>
<path d="M218,320.6 C220,320.53 225.87,320.22 230,320.2 C234.13,320.18 240.67,320.45 242.8,320.5" stroke="#443983"/>
<path d="M41,311 C43.33,312.33 51,317 55,319 C59,321 60.67,321.67 65,323 C69.33,324.33 76,326.4 81,327 C86,327.6 90.33,327.1 95,326.6 C99.67,326.1 104.62,325.3 109,324 C113.38,322.7 116.9,321.1 121.3,318.8 C125.7,316.5 131.85,312.5 135.4,310.2 C138.95,307.9 139.9,307.53 142.6,305 C145.3,302.47 147.03,298.87 151.6,295 C156.17,291.13 165,285.45 170,281.8 C175,278.15 177.93,274.98 181.6,273.1 C185.27,271.22 188.93,270.77 192,270.5 C195.07,270.23 197.33,270.58 200,271.5 C202.67,272.42 205.33,273.88 208,276 C210.67,278.12 213.17,280.53 216,284.2 C218.83,287.87 221.97,293.2 225,298 C228.03,302.8 231.15,308.5 234.2,313 C237.25,317.5 241.78,323 243.3,325" stroke="#481f70"/>
<path d="M101.1,312.2 C102.58,312.77 107.38,314.65 110,315.6 C112.62,316.55 114.27,316.77 116.8,317.9 C119.33,319.03 121.28,320.77 125.2,322.4 C129.12,324.03 135.25,326.18 140.3,327.7 C145.35,329.22 150.55,330.53 155.5,331.5 C160.45,332.47 164.92,333.98 170,333.5 C175.08,333.02 181.57,330.52 186,328.6 C190.43,326.68 194.1,324.27 196.6,322 C199.1,319.73 199.27,318 201,315 C202.73,312 205.17,307.67 207,304 C208.83,300.33 210.5,296.17 212,293 C213.5,289.83 214.33,288 216,285 C217.67,282 219.5,277.75 222,275 C224.5,272.25 228.33,269 231,268.5 C233.67,268 235.83,269.92 238,272 C240.17,274.08 243,279.5 244,281" stroke="#21918c"/>
<path d="M116.8,327 C120.72,328.38 133.48,333.13 140.3,335.3 C147.12,337.47 152.75,338.87 157.7,340 C162.65,341.13 165.28,342.23 170,342.1 C174.72,341.97 181.27,340.87 186,339.2 C190.73,337.53 194.87,334.47 198.4,332.1 C201.93,329.73 204.77,328.02 207.2,325 C209.63,321.98 211.2,317 213,314 C214.8,311 216.33,307.33 218,307 C219.67,306.67 221.33,309.5 223,312 C224.67,314.5 226.33,319 228,322 C229.67,325 232.17,328.67 233,330" stroke="#31688e"/>
<path d="M116.8,314.8 C118.2,317.2 122.55,325.28 125.2,329.2 C127.85,333.12 130.18,335.63 132.7,338.3 C135.22,340.97 136.5,342.67 140.3,345.2 C144.1,347.73 150.55,351.48 155.5,353.5 C160.45,355.52 165.92,356.8 170,357.3 C174.08,357.8 176.75,357.38 180,356.5 C183.25,355.62 186.15,354.5 189.5,352 C192.85,349.5 196.7,345.25 200.1,341.5 C203.5,337.75 207.42,334.42 209.9,329.5 C212.38,324.58 213.32,317.25 215,312 C216.68,306.75 218,300.97 220,298 C222,295.03 224.08,294.78 227,294.2 C229.92,293.62 234.72,293.92 237.5,294.5 C240.28,295.08 242.67,297.17 243.7,297.7" stroke="#20a486"/>
<path d="M207,335 C207.5,332.83 208.83,326.83 210,322 C211.17,317.17 212.37,310 214,306 C215.63,302 217.65,299.92 219.8,298 C221.95,296.08 224.37,294.83 226.9,294.5 C229.43,294.17 232.15,294.92 235,296 C237.85,297.08 242.5,300.17 244,301" stroke="#35b779"/>
<path d="M116.8,326.2 C118.2,328.1 121.28,333.55 125.2,337.6 C129.12,341.65 135.25,346.85 140.3,350.5 C145.35,354.15 150.55,357.37 155.5,359.5 C160.45,361.63 165.92,362.55 170,363.3 C174.08,364.05 176.67,364.88 180,364 C183.33,363.12 186.67,360.67 190,358 C193.33,355.33 196.83,351.87 200,348 C203.17,344.13 206.5,340.13 209,334.8 C211.5,329.47 213.17,321.3 215,316 C216.83,310.7 218.17,306.08 220,303 C221.83,299.92 223.83,298.17 226,297.5 C228.17,296.83 230.67,297.25 233,299 C235.33,300.75 238,304.17 240,308 C242,311.83 244.17,319.67 245,322" stroke="#90d743"/>
<path d="M208.3,336.6 C208.75,333.83 209.97,325.3 211,320 C212.03,314.7 213.17,308.13 214.5,304.8 C215.83,301.47 217.23,301.05 219,300 C220.77,298.95 223.1,298.33 225.1,298.5 C227.1,298.67 229.02,299.25 231,301 C232.98,302.75 234.73,305 237,309 C239.27,313 243.33,322.33 244.6,325" stroke="#5ec962"/>
<path d="M208.3,338 C208.75,335.33 209.97,327.17 211,322 C212.03,316.83 213.17,310.33 214.5,307 C215.83,303.67 217.23,303.1 219,302 C220.77,300.9 223.1,300.23 225.1,300.4 C227.1,300.57 229.23,301.9 231,303 C232.77,304.1 234.2,305.17 235.7,307 C237.2,308.83 238.52,311.27 240,314 C241.48,316.73 243.83,321.83 244.6,323.4" stroke="#c8e020"/>
<path d="M212.7,323.4 C213.42,322.83 215.53,320.9 217,320 C218.47,319.1 220,318.58 221.5,318 C223,317.42 224.52,316.93 226,316.5 C227.48,316.07 228.9,315.9 230.4,315.4 C231.9,314.9 233.53,313.95 235,313.5 C236.47,313.05 237.75,312.38 239.2,312.7 C240.65,313.02 242.95,314.95 243.7,315.4" stroke="#fde725"/>
<path d="M209.2,327.8 C209.83,325.5 211.53,317.55 213,314 C214.47,310.45 216.5,307.17 218,306.5 C219.5,305.83 220.52,307.75 222,310 C223.48,312.25 225.57,317.33 226.9,320 C228.23,322.67 228.98,323.83 230,326 C231.02,328.17 232.5,331.83 233,333" stroke="#3b528b"/>
<path d="M210,326 C210.67,323.67 212.5,315 214,312 C215.5,309 217.33,308 219,308 C220.67,308 222.33,310.33 224,312 C225.67,313.67 227.17,317.33 229,318 C230.83,318.67 233.17,315.33 235,316 C236.83,316.67 238.5,320 240,322 C241.5,324 243.33,327 244,328" stroke="#287c8e"/>
<path d="M211,330 C211.67,327.67 213.5,319.33 215,316 C216.5,312.67 218.33,310.17 220,310 C221.67,309.83 223.33,314.33 225,315 C226.67,315.67 228.17,313.5 230,314 C231.83,314.5 234.17,316 236,318 C237.83,320 239.5,323.67 241,326 C242.5,328.33 244.33,331 245,332" stroke="#443983"/>
</g>
<rect x="263.9" y="268.3" width="7.8" height="110.8" fill="#dedede"/>
<g stroke-width="1.2">
<line x1="264.6" y1="272.7" x2="271" y2="272.7" stroke="#440154"/>
<line x1="264.6" y1="281.24" x2="271" y2="281.24" stroke="#481f70"/>
<line x1="264.6" y1="289.78" x2="271" y2="289.78" stroke="#443983"/>
<line x1="264.6" y1="298.32" x2="271" y2="298.32" stroke="#3b528b"/>
<line x1="264.6" y1="306.86" x2="271" y2="306.86" stroke="#31688e"/>
<line x1="264.6" y1="315.4" x2="271" y2="315.4" stroke="#287c8e"/>
<line x1="264.6" y1="323.94" x2="271" y2="323.94" stroke="#21918c"/>
<line x1="264.6" y1="332.48" x2="271" y2="332.48" stroke="#20a486"/>
<line x1="264.6" y1="341.02" x2="271" y2="341.02" stroke="#35b779"/>
<line x1="264.6" y1="349.56" x2="271" y2="349.56" stroke="#5ec962"/>
<line x1="264.6" y1="358.1" x2="271" y2="358.1" stroke="#90d743"/>
<line x1="264.6" y1="366.64" x2="271" y2="366.64" stroke="#c8e020"/>
<line x1="264.6" y1="375.18" x2="271" y2="375.18" stroke="#fde725"/>
</g>
<g font-family="'Liberation Sans', sans-serif" font-size="4.9" fill="#000">
<text x="274.7" y="274.45">H17 (WT)</text>
<text x="274.7" y="282.99">H1 (Delta)</text>
<text x="274.7" y="291.53">H68</text>
<text x="274.7" y="300.07">H57</text>
<text x="274.7" y="308.61">H55</text>
<text x="274.7" y="317.15">H38</text>
<text x="274.7" y="325.69">H46</text>
<text x="274.7" y="334.23">H2</text>
<text x="274.7" y="342.77">H9</text>
<text x="274.7" y="351.31">H76</text>
<text x="274.7" y="359.85">H11</text>
<text x="274.7" y="368.39">H19</text>
<text x="274.7" y="376.93">H66</text>
<text x="284.4" y="333.9">Intact-Omicron</text>
<text transform="translate(293.8,293.1) rotate(90)">Pre-Omicron</text>
<text transform="translate(287.9,293.1) rotate(90)">Candidates</text>
<text transform="translate(293.8,344.0) rotate(90)">Post-Omicron</text>
<text transform="translate(287.9,344.0) rotate(90)">Candidates</text>
</g>
<g stroke="#444" stroke-width="0.6">
<line x1="285.6" y1="288.5" x2="285.6" y2="324.2"/>
<line x1="285.6" y1="339.6" x2="285.6" y2="375.6"/>
</g>
</svg>
</body></html>
